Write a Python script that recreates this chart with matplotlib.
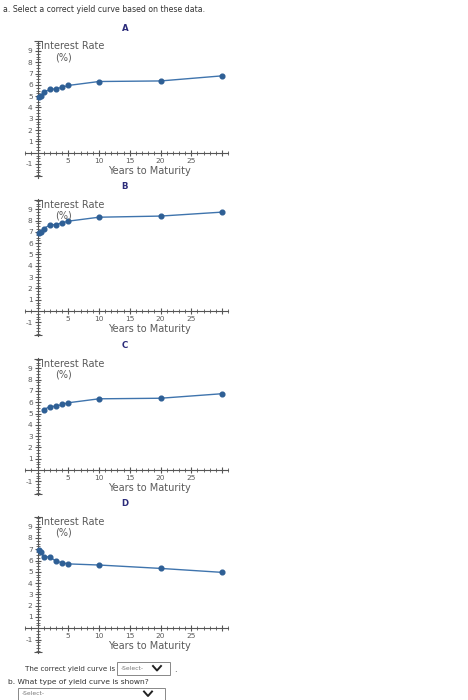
import matplotlib
matplotlib.use('Agg')
import matplotlib.pyplot as plt
from matplotlib.lines import Line2D
from matplotlib.patches import Rectangle
from matplotlib.ticker import MultipleLocator

# maturities in years
years_full = [0.25, 0.5, 1, 2, 3, 4, 5, 10, 20, 30]
years_c = [1, 2, 3, 4, 5, 10, 20, 30]

rate_a = [4.9, 5.0, 5.35, 5.6, 5.65, 5.8, 5.95, 6.3, 6.35, 6.8]
rate_b = [6.9, 7.0, 7.3, 7.6, 7.65, 7.8, 7.95, 8.3, 8.4, 8.75]
rate_c = [5.35, 5.6, 5.65, 5.8, 5.95, 6.3, 6.35, 6.75]
rate_d = [6.95, 6.75, 6.35, 6.3, 5.95, 5.8, 5.7, 5.6, 5.3, 4.95]

panel_names = ['A', 'B', 'C', 'D']
x_ticks = [5, 10, 15, 20, 25, 30]
x_tick_labels = ['5', '10', '15', '20', '25', '']
y_ticks = [-1, 1, 2, 3, 4, 5, 6, 7, 8, 9]

W, H = 468, 700
LINE = '#3f74ad'
DOT = '#2e5f95'
AXC = '#555555'
TXT = '#5a5a5a'

fig = plt.figure(figsize=(W / 100, H / 100), dpi=100)
fig.patch.set_facecolor('white')


def fx(x):
    return x / W


def fy(y):
    return 1 - y / H


# pixel layout of each panel: zero line position
zero_px = [152.7, 311.0, 470.0, 628.3]
x_px0, x_scale = 37.5, 6.15
y_scale = 11.3
xlim = (-2, 31)
ylim = (-2.2, 9.9)

series = [(years_full, rate_a), (years_full, rate_b), (years_c, rate_c), (years_full, rate_d)]

fig.text(fx(3), fy(9), 'a. Select a correct yield curve based on these data.',
         fontsize=5.6, color='#333333', va='center', ha='left')

for name, z, (xs, ys) in zip(panel_names, zero_px, series):
    left = x_px0 + xlim[0] * x_scale
    width = (xlim[1] - xlim[0]) * x_scale
    bottom = z - ylim[0] * y_scale
    height = (ylim[1] - ylim[0]) * y_scale
    ax = fig.add_axes([fx(left), fy(bottom), width / W, height / H])
    ax.set_xlim(*xlim)
    ax.set_ylim(*ylim)
    ax.patch.set_alpha(0)

    for s in ['top', 'right']:
        ax.spines[s].set_visible(False)
    for s in ['left', 'bottom']:
        ax.spines[s].set_position(('data', 0))
        ax.spines[s].set_color(AXC)
        ax.spines[s].set_linewidth(0.8)

    ax.set_xticks(x_ticks)
    ax.set_xticklabels(x_tick_labels)
    ax.set_yticks(y_ticks)
    ax.set_yticklabels([str(v) for v in y_ticks])
    ax.xaxis.set_minor_locator(MultipleLocator(1))
    ax.yaxis.set_minor_locator(MultipleLocator(0.25))
    ax.tick_params(which='major', direction='inout', length=5, width=0.8,
                   color=AXC, labelsize=5.3, labelcolor=TXT, pad=1)
    ax.tick_params(which='minor', direction='inout', length=2.5, width=0.6, color=AXC)

    # end caps on the y axis
    ax.plot([0, 0], [ylim[0] + 0.1, ylim[1] - 0.05], ls='none', marker='_',
            ms=6, mew=0.8, color=AXC, clip_on=False)

    ax.plot(xs, ys, color=LINE, lw=1.0, marker='o', ms=3.4,
            mfc=DOT, mec=DOT, clip_on=False, zorder=3)

    ax.text(0.6, 9.15, 'Interest Rate', fontsize=7, color=TXT, va='baseline')
    ax.text(2.8, 8.2, '(%)', fontsize=7, color=TXT, va='baseline')
    ax.text(11.5, -1.85, 'Years to Maturity', fontsize=7, color=TXT, va='baseline')
    ax.text(14.2, 11.0, name, fontsize=6.2, color='#2b2b7a', fontweight='bold',
            ha='center', va='center', clip_on=False)

# bottom form elements
fig.text(fx(25), fy(669), 'The correct yield curve is', fontsize=5.1,
         color='#333333', va='center', ha='left')
fig.patches.append(Rectangle((fx(117), fy(675)), 53 / W, 13 / H, transform=fig.transFigure,
                             fill=False, ec='#888888', lw=0.7))
fig.text(fx(121), fy(668.5), '-Select-', fontsize=4.3, color='#777777', va='center')
fig.lines.append(Line2D([fx(153), fx(157), fx(161)], [fy(666), fy(670.5), fy(666)],
                        transform=fig.transFigure, color='#222222', lw=1.4))
fig.text(fx(174), fy(669), '.', fontsize=6, color='#333333', va='center')

fig.text(fx(8), fy(682), 'b. What type of yield curve is shown?', fontsize=5.4,
         color='#333333', va='center', ha='left')
fig.patches.append(Rectangle((fx(18), fy(700)), 147 / W, 12 / H, transform=fig.transFigure,
                             fill=False, ec='#888888', lw=0.7))
fig.text(fx(22), fy(693.5), '-Select-', fontsize=4.3, color='#777777', va='center')
fig.lines.append(Line2D([fx(144), fx(148), fx(152)], [fy(691.5), fy(696), fy(691.5)],
                        transform=fig.transFigure, color='#222222', lw=1.4))

fig.savefig('out.png', dpi=100, facecolor='white')
